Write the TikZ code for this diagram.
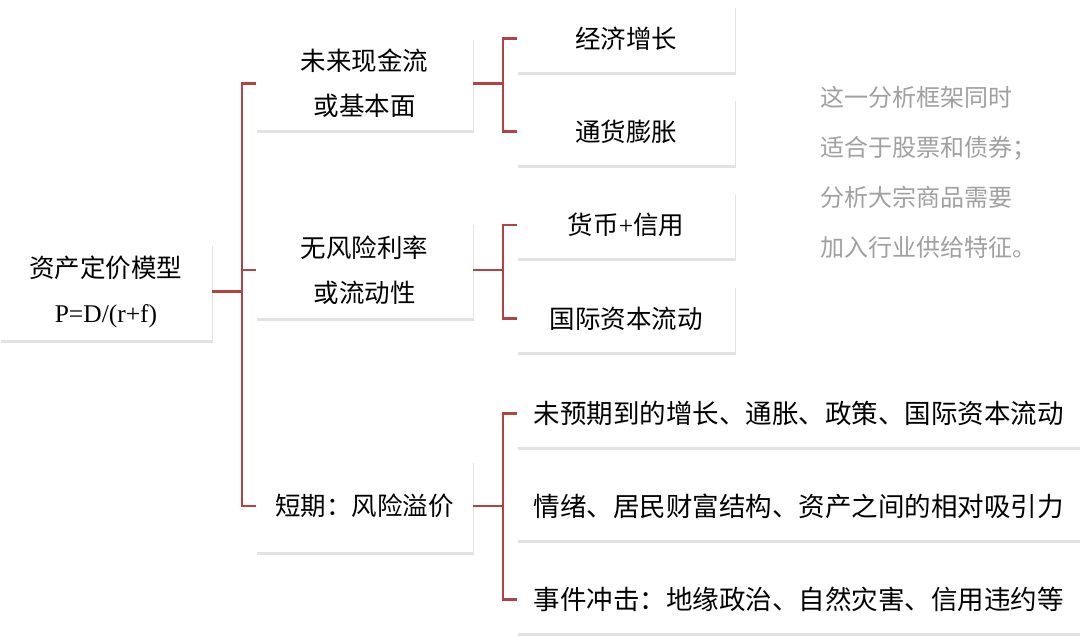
\documentclass[tikz,border=0pt]{standalone}
\usepackage{fontspec}
\setmainfont{Liberation Serif}
\newfontfamily\cjk{Noto Sans CJK SC}
\usetikzlibrary{shadows}
\definecolor{lk}{HTML}{B04444}
\definecolor{nt}{HTML}{A0A0A0}
\tikzset{
 bx/.style={draw=none,fill=white,drop shadow={shadow xshift=1pt,shadow yshift=-2.5pt,opacity=0.22,fill=gray},inner sep=0pt,align=center,font=\cjk\fontsize{25.5}{45}\selectfont},
 ln/.style={draw=lk,line width=2.2pt},
}
\begin{document}
\begin{tikzpicture}[x=1pt,y=-1pt]
\useasboundingbox[fill=white] (0,0) rectangle (1080,637);
\node[bx,minimum width=212,minimum height=97] (r) at (106,291.5) {资产定价模型\\{\rmfamily P=D/(r+f)}};
\node[bx,minimum width=217,minimum height=93] (a) at (364.5,83.5) {未来现金流\\或基本面};
\node[bx,minimum width=217,minimum height=96] (b) at (364.5,270) {无风险利率\\或流动性};
\node[bx,minimum width=217,minimum height=92] (c) at (364.5,506) {短期：风险溢价};
\node[bx,minimum width=218,minimum height=67] (a1) at (626,38.5) {经济增长};
\node[bx,minimum width=218,minimum height=67] (a2) at (626,131.5) {通货膨胀};
\node[bx,minimum width=218,minimum height=66] (b1) at (626,225) {货币{\rmfamily +}信用};
\node[bx,minimum width=218,minimum height=67] (b2) at (626,318.5) {国际资本流动};
\tikzset{lg/.style={bx,minimum width=563,minimum height=67,font=\cjk\fontsize{26.5}{40}\selectfont}}
\node[lg] (c1) at (798.5,413.5) {未预期到的增长、通胀、政策、国际资本流动};
\node[lg] (c2) at (798.5,506.5) {情绪、居民财富结构、资产之间的相对吸引力};
\node[lg] (c3) at (798.5,599.5) {事件冲击：地缘政治、自然灾害、信用违约等};
\coordinate (t) at (242,0);
\coordinate (u) at (503,0);
\draw[ln] (r.east) -- (t|-r.east);
\draw[ln] (a.west) -| (t|-c.west) -- (c.west);
\draw[ln] (b.west) -- (t|-b.west);
\draw[ln] (a.east) -- (u|-a.east);
\draw[ln] (a1.west) -| (u|-a1.west) |- (a2.west);
\draw[ln] (b.east) -- (u|-b.east);
\draw[ln] (b1.west) -| (u|-b1.west) |- (b2.west);
\draw[ln] (c.east) -- (u|-c.east);
\draw[ln] (c1.west) -| (u|-c1.west) |- (c3.west);
\node[anchor=north west,align=left,text=nt,font=\cjk\fontsize{24}{50}\selectfont] (n) at (817,83) {这一分析框架同时\\适合于股票和债券；\\分析大宗商品需要\\加入行业供给特征。};
\end{tikzpicture}
\end{document}
